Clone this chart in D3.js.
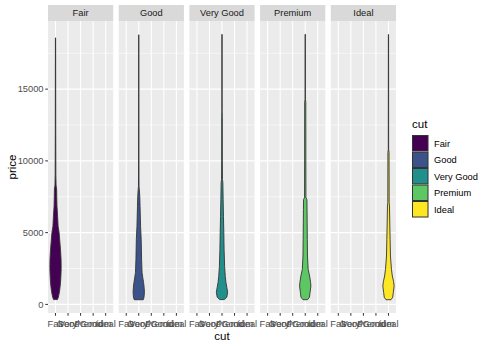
<!DOCTYPE html>
<html><head><meta charset="utf-8">
<script src="https://cdn.jsdelivr.net/npm/d3@7"></script>
<style>body{margin:0;background:#fff}svg{display:block;font-family:"Liberation Sans",Arial,sans-serif}</style>
</head><body><svg id="c" width="485" height="346"></svg>
<script>
const categories = ["Fair","Good","Very Good","Premium","Ideal"];
const colors = ["#440154","#3B528B","#21908C","#5DC863","#FDE725"];
const yTicks = [0,5000,10000,15000];
const yMinor = [2500,7500,12500,17500];
// density profiles (price levels and relative half-width, 1 = widest)
const fairPrice  = [337,500,800,1050,1500,1950,2500,3140,3700,4320,5020,5440,6140,6830,7500,8020,8300,9000,12000,15000,18574];
const fairWidth  = [0.35,0.5,0.66,0.76,0.88,0.95,1.0,0.98,0.9,0.78,0.63,0.46,0.37,0.26,0.22,0.2,0.1,0.06,0.04,0.03,0.02];
const goodPrice  = [327,450,600,850,1200,1530,1900,2230,3140,4530,5440,6830,7500,8020,8200,10000,15000,18788];
const goodWidth  = [0.8,0.9,0.96,1.0,0.95,0.85,0.7,0.58,0.5,0.43,0.32,0.23,0.18,0.1,0.05,0.03,0.02,0.01];
const vgoodPrice = [336,500,840,1200,1530,1950,2650,3840,5020,6140,7320,8500,8700,10000,13000,13500,18818];
const vgoodWidth = [0.4,0.85,1.0,0.85,0.7,0.58,0.46,0.37,0.32,0.26,0.2,0.15,0.08,0.06,0.05,0.02,0.015];
const premPrice  = [326,500,840,1280,1530,1980,2440,3370,4530,5710,6620,7300,7460,10000,14090,14300,18823];
const premWidth  = [0.4,0.75,0.86,1.0,0.95,0.77,0.52,0.4,0.37,0.34,0.32,0.3,0.12,0.11,0.1,0.03,0.02];
const idealPrice = [326,500,840,1280,1600,1980,2440,3370,4530,5460,6860,7000,7110,10600,10800,18806];
const idealWidth = [0.45,0.75,0.86,1.0,0.9,0.68,0.53,0.35,0.29,0.24,0.18,0.14,0.12,0.1,0.03,0.02];
const prices = [fairPrice,goodPrice,vgoodPrice,premPrice,idealPrice];
const widths = [fairWidth,goodWidth,vgoodWidth,premWidth,idealWidth];

const svg = d3.select("#c");
const pL = 48, pR = 396, pT = 21, pB = 313, gap = 5.5, stripH = 16;
const pw = (pR-pL-4*gap)/5;
const y = d3.scaleLinear().domain([-599,19748]).range([pB,pT]);
const fs = 9.3;

categories.forEach((cat,i)=>{
  const x0 = pL + i*(pw+gap);
  const x = d3.scalePoint().domain(categories).range([0,pw]).padding(0.6);
  const g = svg.append("g").attr("transform",`translate(${x0},0)`);
  g.append("rect").attr("x",0).attr("y",pT).attr("width",pw).attr("height",pB-pT).attr("fill","#EBEBEB");
  yMinor.forEach(v=>g.append("line").attr("x1",0).attr("x2",pw).attr("y1",y(v)).attr("y2",y(v)).attr("stroke","#fff").attr("stroke-width",0.55));
  yTicks.forEach(v=>g.append("line").attr("x1",0).attr("x2",pw).attr("y1",y(v)).attr("y2",y(v)).attr("stroke","#fff").attr("stroke-width",1.07));
  categories.forEach(c=>g.append("line").attr("x1",x(c)).attr("x2",x(c)).attr("y1",pT).attr("y2",pB).attr("stroke","#fff").attr("stroke-width",1.07));
  // strip
  g.append("rect").attr("x",0).attr("y",pT-stripH).attr("width",pw).attr("height",stripH).attr("fill","#D9D9D9");
  g.append("text").attr("x",pw/2).attr("y",pT-stripH/2).attr("dy","0.35em").attr("text-anchor","middle").attr("font-size",fs).attr("fill","#1A1A1A").text(cat);
  // violin
  const hw = 0.45*x.step();
  const cx = x(cat);
  const data = prices[i].map((p,k)=>({p, w:widths[i][k]}));
  const area = d3.area().y(d=>y(d.p)).x0(d=>cx-d.w*hw).x1(d=>cx+d.w*hw);
  g.append("path").attr("d",area(data)+"Z").attr("fill",colors[i]).attr("stroke","#333333").attr("stroke-width",0.9);
  // x axis
  categories.forEach(c=>{
    g.append("line").attr("x1",x(c)).attr("x2",x(c)).attr("y1",pB).attr("y2",pB+2.75).attr("stroke","#333333").attr("stroke-width",1);
    g.append("text").attr("x",x(c)).attr("y",pB+13.5).attr("text-anchor","middle").attr("font-size",fs).attr("fill","#4D4D4D").text(c);
  });
  if(i===0){
    yTicks.forEach(v=>{
      svg.append("line").attr("x1",pL-2.75).attr("x2",pL).attr("y1",y(v)).attr("y2",y(v)).attr("stroke","#333333").attr("stroke-width",1);
      svg.append("text").attr("x",pL-4.5).attr("y",y(v)).attr("dy","0.35em").attr("text-anchor","end").attr("font-size",fs).attr("fill","#4D4D4D").text(v);
    });
  }
});
// axis titles
svg.append("text").attr("x",(pL+pR)/2).attr("y",339.5).attr("text-anchor","middle").attr("font-size",11.5).attr("fill","#000").text("cut");
svg.append("text").attr("transform",`translate(16,${(pT+pB)/2}) rotate(-90)`).attr("text-anchor","middle").attr("font-size",11.5).attr("fill","#000").text("price");
// legend
const lx = 412, ly = 135, ks = 16.5;
svg.append("text").attr("x",lx).attr("y",ly-7).attr("font-size",11.5).attr("fill","#000").text("cut");
categories.forEach((c,i)=>{
  svg.append("rect").attr("x",lx).attr("y",ly+i*ks).attr("width",ks).attr("height",ks).attr("fill","#F2F2F2");
  svg.append("rect").attr("x",lx+0.5).attr("y",ly+i*ks+0.5).attr("width",ks-1).attr("height",ks-1).attr("fill",colors[i]).attr("stroke","#333333").attr("stroke-width",1);
  svg.append("text").attr("x",lx+ks+5.5).attr("y",ly+i*ks+ks/2).attr("dy","0.35em").attr("font-size",fs).attr("fill","#000").text(c);
});
</script></body></html>
